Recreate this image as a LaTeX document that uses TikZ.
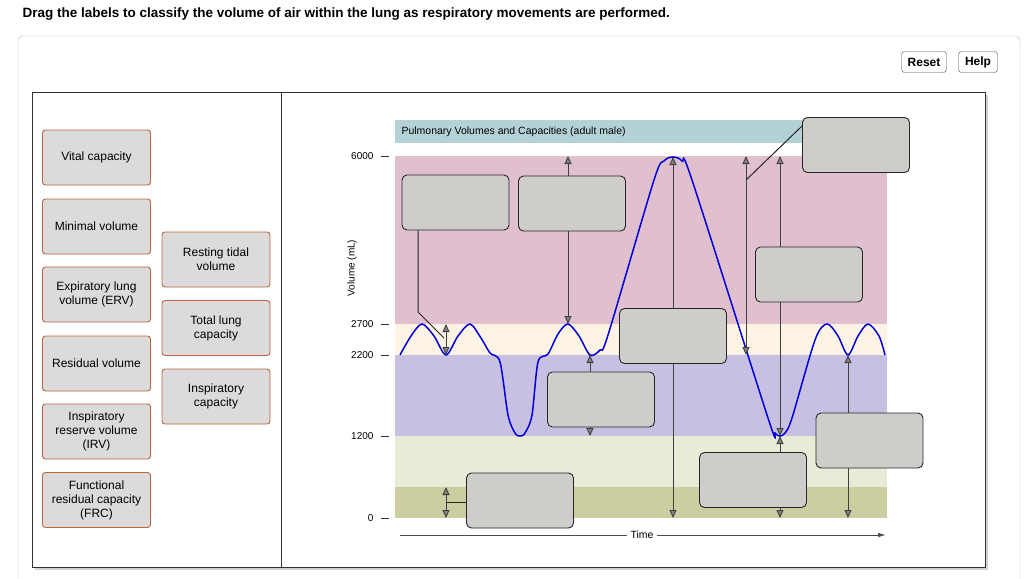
\documentclass[tikz,border=0pt]{standalone}
\usepackage{fontspec}
\setmainfont{Liberation Sans}
\usetikzlibrary{arrows.meta}
\definecolor{bpink}{HTML}{E0C0CE}
\definecolor{bcream}{HTML}{FDF3E4}
\definecolor{blav}{HTML}{C8C0E2}
\definecolor{bgreen}{HTML}{E8ECD6}
\definecolor{bolive}{HTML}{CDCDA2}
\definecolor{bteal}{HTML}{B4D2D6}
\definecolor{lblbord}{HTML}{B8663A}
\begin{document}
\begin{tikzpicture}[x=1pt,y=-1pt,
  lbl/.style={draw=lblbord,line width=0.9pt,fill=gray!28,rounded corners=3pt,minimum width=108pt,minimum height=55pt,align=center,font=\fontsize{12}{14}\selectfont,inner sep=1pt},
  drop/.style={draw=black!85,line width=0.9pt,fill={rgb,255:red,207;green,205;blue,202},rounded corners=5pt,minimum width=107pt,minimum height=55pt},
  dbl/.style={line width=0.9pt,draw=black!75,{Triangle[width=7pt,length=8pt,fill=gray]}-{Triangle[width=7pt,length=8pt,fill=gray]}},
  one/.style={line width=0.9pt,draw=black!75,-{Triangle[width=7pt,length=8pt,fill=gray]}},
  ld/.style={line width=1pt,draw=black!85},
  tk/.style={font=\fontsize{10}{11}\selectfont,anchor=east}]
\useasboundingbox (0,0) rectangle (1024,578);
\fill[white] (0,0) rectangle (1024,578);
\node[anchor=west,font=\bfseries\fontsize{13.5}{15}\selectfont] (title) at (19,14) {Drag the labels to classify the volume of air within the lung as respiratory movements are performed.};
\draw[gray!50,rounded corners=5pt] (18,590) -- (18,36) -- (1020,36) -- (1020,590);
\node[draw=black!70,rounded corners=3pt,minimum width=45pt,minimum height=21pt,font=\bfseries\fontsize{12}{14}\selectfont,inner sep=1pt] (reset) at (924,62) {Reset};
\node[draw=black!70,rounded corners=3pt,minimum width=39pt,minimum height=21pt,font=\bfseries\fontsize{12}{14}\selectfont,inner sep=1pt] (help) at (978,62) {Help};
% inner panel
\fill[gray!35] (35,95) rectangle (988,570);
\draw[black!80,fill=white,line width=0.8pt] (32,92) rectangle (985,567);
\draw[black!80,line width=0.8pt] (281,92) -- (281,567);
% left labels
\node[lbl] (l1) at (96.5,157.5) {Vital capacity};
\node[lbl] (l2) at (96.5,226.5) {Minimal volume};
\node[lbl] (l3) at (96.5,294.5) {Expiratory lung\\volume (ERV)};
\node[lbl] (l4) at (96.5,363.5) {Residual volume};
\node[lbl] (l5) at (96.5,431.5) {Inspiratory\\reserve volume\\(IRV)};
\node[lbl] (l6) at (96.5,500) {Functional\\residual capacity\\(FRC)};
\node[lbl] (l7) at (216,259.5) {Resting tidal\\volume};
\node[lbl] (l8) at (216,328) {Total lung\\capacity};
\node[lbl] (l9) at (216,396.5) {Inspiratory\\capacity};
% chart bands
\fill[bteal] (395,120) rectangle (890,143);
\node[anchor=west,font=\fontsize{10.5}{12}\selectfont] (ctitle) at (398,131.5) {Pulmonary Volumes and Capacities (adult male)};
\fill[bpink] (395,156) rectangle (887,324);
\fill[bcream] (395,324) rectangle (887,355);
\fill[blav] (395,355) rectangle (887,436);
\fill[bgreen] (395,436) rectangle (887,487);
\fill[bolive] (395,487) rectangle (887,518);
\foreach \yy/\tt in {156/6000,324/2700,355/2200,436/1200,518/0}{
  \draw[black!80] (381,\yy) -- (389,\yy);
  \node[tk] at (377,\yy) {\tt};}
\node[rotate=90,font=\fontsize{10}{11}\selectfont] (vlab) at (352,268) {Volume (mL)};
\node[font=\fontsize{10.5}{12}\selectfont] (time) at (642,535) {Time};
\coordinate (t0) at (400,535); \coordinate (t1) at (885,535);
\draw[black!70] (t0) -- (time.west);
\draw[black!70,-{Triangle[width=4pt,length=7pt]}] (time.east) -- (t1);
% curve
\draw[blue!85!black,line width=1.5pt] plot[smooth,tension=0.5] coordinates {
 (400,355) (411,336) (422,324) (434,336) (446,355) (458,336) (470,324) (481,338) (490,353) (500,362) (508,415) (515,433) (520,436) (525,433) (532,415) (538,362) (548,354) (558,334) (568,324) (579,336) (590,355) (600,350) (608,335) (654,180) (664,161) (673,157) (682,161) (692,180) (768,418) (775,433) (780,436) (785,433) (792,418) (815,340) (827,324) (838,336) (848,355) (858,336) (868,324) (879,336) (885,355)};
% drop boxes
\node[drop] (b1) at (455.5,202.5) {};
\node[drop] (b2) at (572,203.5) {};
\node[drop] (b3) at (856,145) {};
\node[drop] (b4) at (809,274.5) {};
\node[drop] (b5) at (673,336) {};
\node[drop] (b6) at (601,399.5) {};
\node[drop] (b7) at (520,500.5) {};
\node[drop] (b8) at (753,480) {};
\node[drop] (b9) at (869.5,440.5) {};
% arrows
\draw[dbl] (446,324) -- (446,355);
\coordinate (k1) at (418,312); \coordinate (k2) at (444,338);
\draw[ld] (b1.south -| k1) -- (k1) -- (k2);
\draw[one] (b2.north -| 568,0) -- (568,156);
\draw[one] (b2.south -| 568,0) -- (568,324);
\draw[one] (b6.north -| 590,0) -- (590,355);
\draw[one] (b6.south -| 590,0) -- (590,436);
\draw[one] (b5.north -| 673,0) -- (673,157);
\draw[one] (b5.south -| 673,0) -- (673,518);
\draw[dbl] (746,156) -- (746,355);
\coordinate (k3) at (746,180);
\draw[ld] (k3) -- (b3.west |- 0,126);
\draw[one] (b4.north -| 780,0) -- (780,156);
\draw[one] (b4.south -| 780,0) -- (780,436);
\draw[one] (b8.north -| 780,0) -- (780,436);
\draw[one] (b8.south -| 780,0) -- (780,518);
\draw[one] (b9.north -| 848,0) -- (848,355);
\draw[one] (b9.south -| 848,0) -- (848,518);
\draw[dbl] (446,487) -- (446,518);
\coordinate (k4) at (446,502);
\draw[ld] (k4) -- (b7.west |- k4);
\end{tikzpicture}
\end{document}
